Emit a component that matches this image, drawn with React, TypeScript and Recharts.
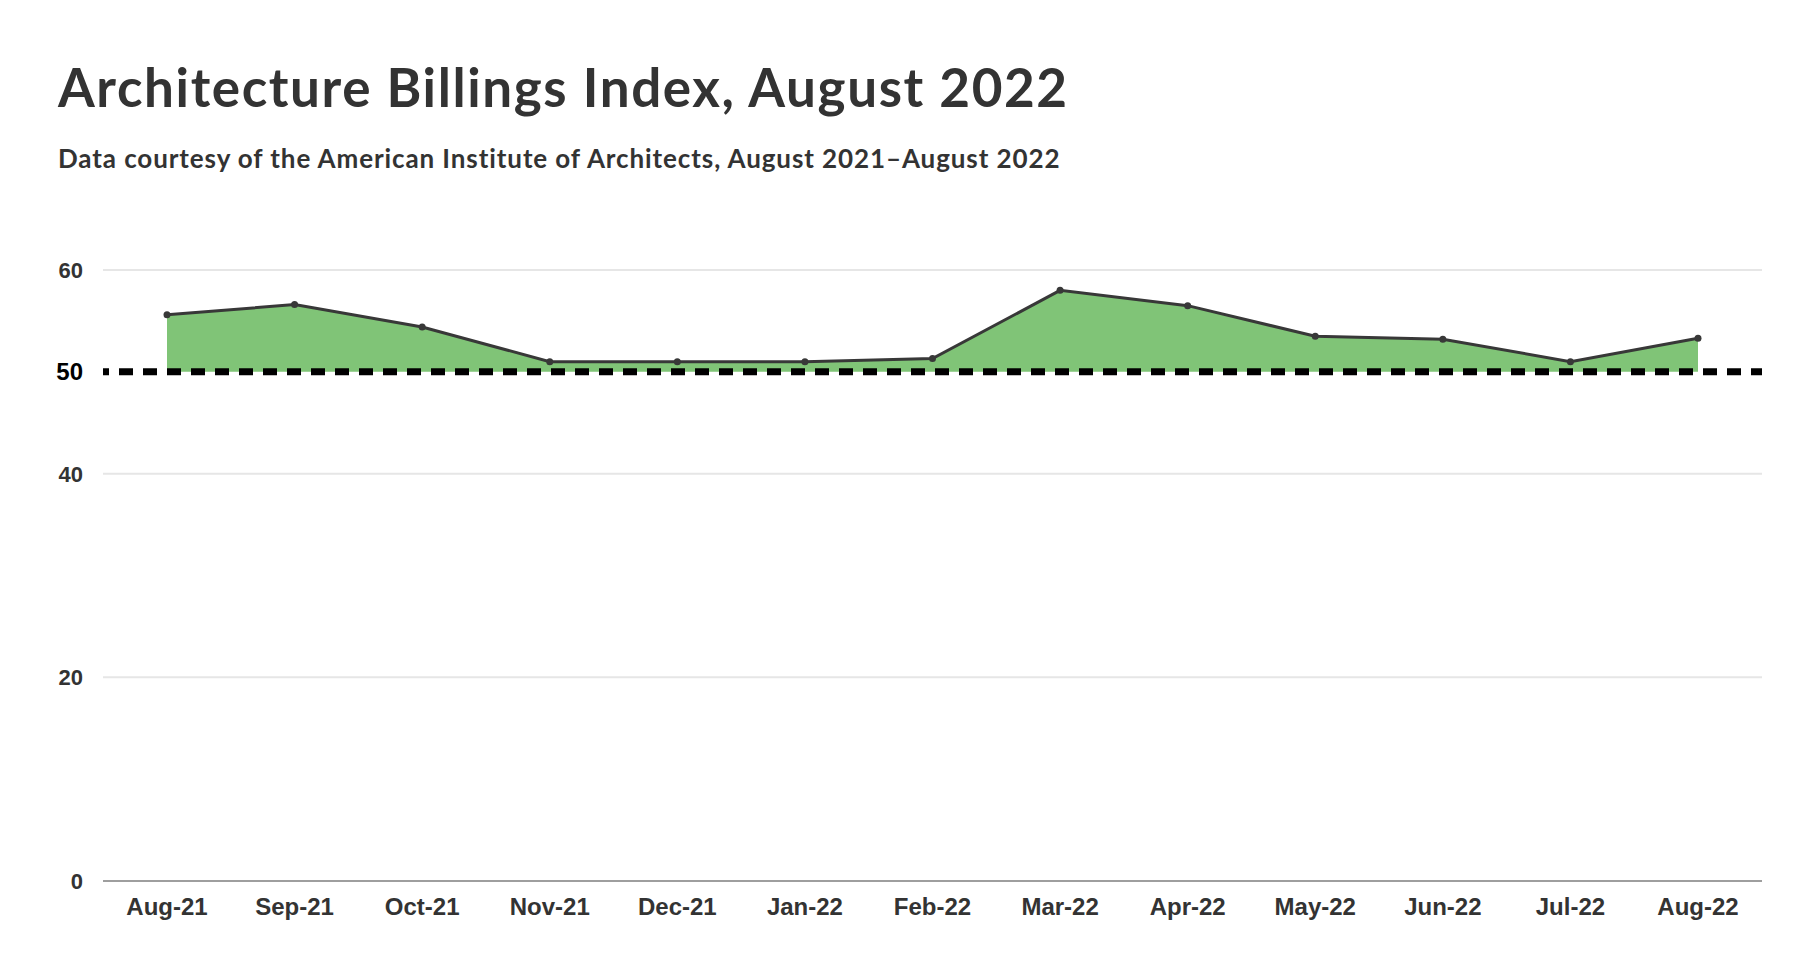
import { Area, AreaChart, CartesianGrid, ReferenceLine, XAxis, YAxis } from 'recharts';

const months = ['Aug-21', 'Sep-21', 'Oct-21', 'Nov-21', 'Dec-21', 'Jan-22', 'Feb-22', 'Mar-22', 'Apr-22', 'May-22', 'Jun-22', 'Jul-22', 'Aug-22'];
const abiValues = [55.6, 56.6, 54.4, 51.0, 51.0, 51.0, 51.3, 58.0, 56.5, 53.5, 53.2, 51.0, 53.3];
const yTicks = [0, 20, 40, 50, 60];
const gridValues = [20, 40, 60];
const threshold = 50;

const data = months.map((month, i) => ({ month, value: abiValues[i] }));

const tickFont = '"Liberation Sans", Arial, sans-serif';

function YTick(props: any) {
    const { x, y, payload } = props;
    const isThreshold = payload.value === threshold;
    return (
        <text
            x={x}
            y={y}
            dy="0.36em"
            textAnchor="end"
            fontFamily={tickFont}
            fontWeight={700}
            fontSize={isThreshold ? 24 : 22}
            fill={isThreshold ? '#000' : '#333'}
        >
            {payload.value}
        </text>
    );
}

export default function App() {
    return (
        <div style={{ position: 'absolute', top: 0, left: 0, width: 1820, height: 980, background: '#fff' }}>
            <div
                style={{
                    position: 'absolute',
                    left: 58,
                    top: 60,
                    fontFamily: 'Lato, sans-serif',
                    fontWeight: 700,
                    fontSize: 53,
                    letterSpacing: 1.6,
                    lineHeight: 1,
                    color: '#333',
                    whiteSpace: 'nowrap',
                }}
            >
                Architecture Billings Index, August 2022
            </div>
            <div
                style={{
                    position: 'absolute',
                    left: 58,
                    top: 145,
                    fontFamily: 'Lato, sans-serif',
                    fontWeight: 700,
                    fontSize: 26,
                    letterSpacing: 0.9,
                    lineHeight: 1,
                    color: '#333',
                    whiteSpace: 'nowrap',
                }}
            >
                Data courtesy of the American Institute of Architects, August 2021–August 2022
            </div>
            <AreaChart width={1820} height={980} data={data} margin={{ top: 270, right: 58, bottom: 59, left: 43 }}>
                <CartesianGrid horizontal={false} vertical={false} />
                {gridValues.map((v) => (
                    <ReferenceLine key={v} y={v} stroke="#e6e6e6" strokeWidth={2} />
                ))}
                <XAxis
                    dataKey="month"
                    padding={{ left: 64, right: 64 }}
                    axisLine={{ stroke: '#9e9e9e', strokeWidth: 2 }}
                    tickLine={false}
                    tickMargin={11}
                    height={40}
                    interval={0}
                    tick={{ fontFamily: tickFont, fontWeight: 700, fontSize: 24, fill: '#333' }}
                />
                <YAxis
                    domain={[0, 60]}
                    ticks={yTicks}
                    width={60}
                    axisLine={false}
                    tickLine={false}
                    tickMargin={14}
                    tick={<YTick />}
                />
                <Area
                    type="linear"
                    dataKey="value"
                    baseValue={threshold}
                    fill="#80c477"
                    fillOpacity={1}
                    stroke="#383838"
                    strokeWidth={3}
                    dot={{ r: 3.5, fill: '#383838', stroke: 'none' }}
                    activeDot={false}
                    isAnimationActive={false}
                />
                <ReferenceLine y={threshold} stroke="#000" strokeWidth={7} strokeDasharray="14 10" strokeDashoffset={8} />
            </AreaChart>
        </div>
    );
}
